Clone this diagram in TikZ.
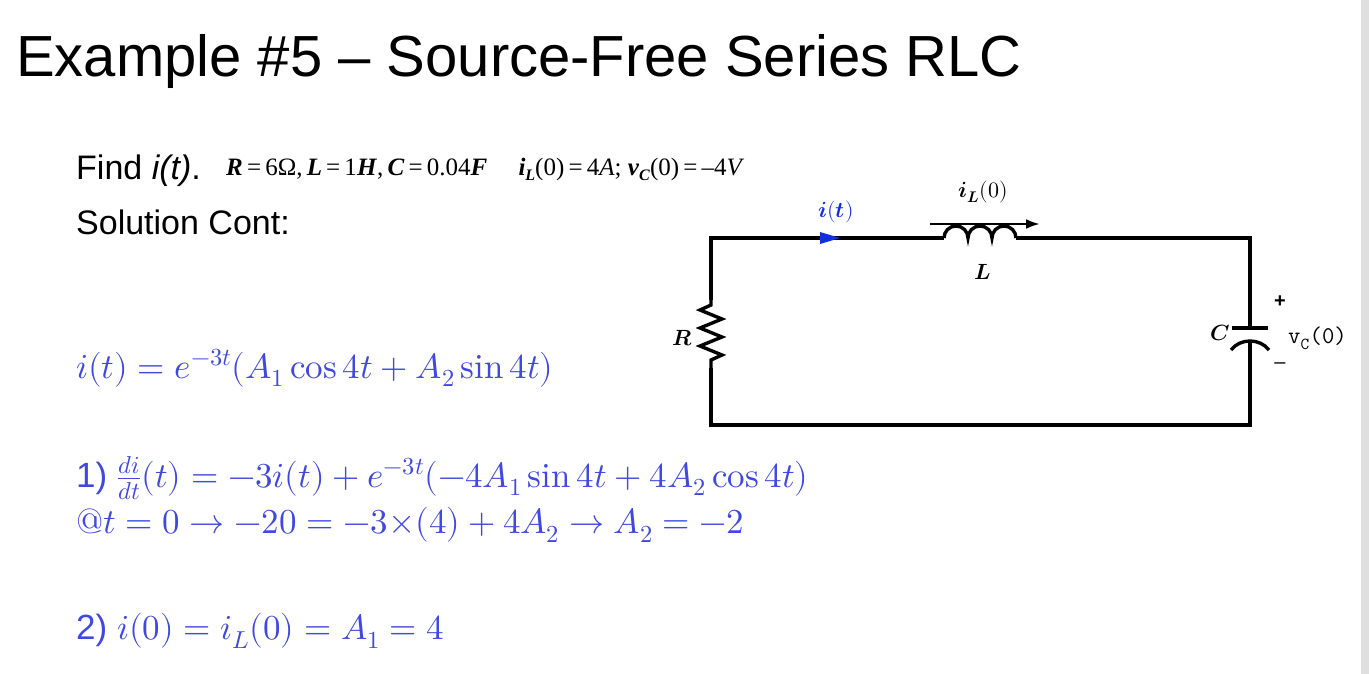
\documentclass[tikz,border=0pt]{standalone}
\usepackage{fontspec}
\usepackage{amsmath}
\usepackage{unicode-math}
\setmainfont{Liberation Sans}
\setmathfont{Latin Modern Math}
\newfontfamily\tnr{Liberation Serif}
\usetikzlibrary{arrows.meta}
\definecolor{eqblue}{HTML}{3F48E0}
\definecolor{wblue}{HTML}{1030E0}
\newcommand{\bi}[1]{\textbf{\textit{#1}}}
\newcommand{\sub}[1]{\raisebox{-5pt}{\fontsize{16}{16}\selectfont\bi{#1}}}
\newcommand{\mcos}{\mathop{\symup{cos}}}
\newcommand{\msin}{\mathop{\symup{sin}}}
\begin{document}
\begin{tikzpicture}[x=1pt,y=-1pt,
  wire/.style={line width=3.4pt},
  eq/.style={anchor=west,inner sep=0pt,text=eqblue,font=\fontsize{35}{38}\selectfont},
  lbl/.style={inner sep=0pt,font=\tnr\bfseries\itshape\fontsize{22}{24}\selectfont}]
\useasboundingbox (0,0) rectangle (1369,674);
\node[anchor=west,inner sep=0pt,font=\fontsize{58}{62}\selectfont] (title) at (16,62) {Example \#5 -- Source-Free Series RLC};
\node[anchor=west,inner sep=0pt,font=\fontsize{34}{36}\selectfont] (find) at (76,171) {Find \textit{i(t)}.};
\node[anchor=west,inner sep=0pt,font=\tnr\fontsize{25}{27}\selectfont] (given) at (226,169) {\bi{R}\,=\,6Ω,\,\bi{L}\,=\,1\bi{H},\,\bi{C}\,=\,0.04\bi{F}\quad\ \bi{i}\sub{L}(0)\,=\,4\textit{A}; \bi{v}\sub{C}(0)\,=\,–4\textit{V}};
\node[anchor=west,inner sep=0pt,font=\fontsize{34}{36}\selectfont] (sol) at (76,222) {Solution Cont:};
\node[eq] (e1) at (76,368) {$i(t)=e^{-3t}(A_1\mcos 4t+A_2\msin 4t)$};
\node[eq] (e2) at (76,478) {1) $\frac{di}{dt}(t)=-3i(t)+e^{-3t}(-4A_1\msin 4t+4A_2\mcos 4t)$};
\node[eq] (e3) at (76,525) {$@t=0\rightarrow -20=-3{\times}(4)+4A_2\rightarrow A_2=-2$};
\node[eq] (e4) at (76,631) {2) $i(0)=i_L(0)=A_1=4$};
% circuit
\coordinate (tl) at (711,238); \coordinate (tr) at (1250,238);
\coordinate (bl) at (711,425); \coordinate (br) at (1250,425);
\coordinate (ra) at (711,300); \coordinate (rb) at (711,368);
\coordinate (la) at (944,238); \coordinate (lb) at (1016,238);
\coordinate (ca) at (1250,328); \coordinate (cb) at (1250,340);
\draw[wire] (ra) -- (tl) -- (la);
\draw[wire] (la) arc (180:360:12) arc (180:360:12) arc (180:360:12);
\draw[wire] (lb) -- (tr) -- (ca);
\draw[wire,line join=miter] (ra) -- (711,305) -- (700,310) -- (722,319) -- (700,328) -- (722,337) -- (700,346) -- (722,355) -- (711,360) -- (rb);
\draw[wire] (rb) -- (bl) -- (br) -- (cb);
\draw[wire] (1232,328) -- (1268,328);
\draw[wire] (1231,350) .. controls (1240,338) and (1260,338) .. (1269,350);
\draw[-{Latex[length=14pt,width=10pt]},line width=2.6pt] (930,224) -- (1040,224);
\fill[wblue] (820,232) -- (840,238) -- (820,244) -- cycle;
\node[lbl,text=wblue] (it) at (836,212) {$\symbfit{i}(\symbfit{t})$};
\node[lbl] (il) at (983,192) {$\symbfit{i}_{\symbfit{L}}(0)$};
\node[lbl] (L) at (983,272) {$\symbfit{L}$};
\node[lbl] (R) at (682,338) {$\symbfit{R}$};
\node[lbl] (C) at (1220,333) {$\symbfit{C}$};
\node[inner sep=0pt,font=\bfseries\fontsize{20}{22}\selectfont] (p) at (1280,302) {+};
\node[inner sep=0pt,font=\fontsize{20}{22}\selectfont] (m) at (1280,366) {--};
\node[anchor=west,inner sep=0pt,font=\ttfamily\fontsize{24}{26}\selectfont] (vc) at (1288,338) {v$_{\text{C}}$(0)};
\fill[gray!25] (1361,0) rectangle (1369,674);
\end{tikzpicture}
\end{document}
